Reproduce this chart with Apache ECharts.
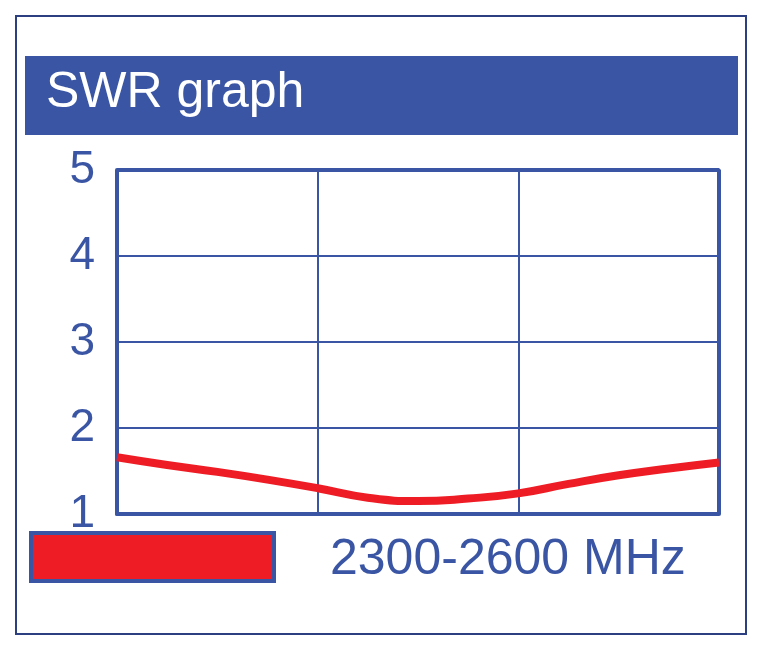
<!DOCTYPE html>
<html>
<head>
<meta charset="utf-8">
<script src="https://cdn.jsdelivr.net/npm/echarts@6/dist/echarts.min.js"></script>
<style>
  body { margin: 0; background: #fff; }
  #chart { width: 762px; height: 650px; }
</style>
</head>
<body>
<div id="chart"></div>
<script>
const freqs = [2300, 2325, 2350, 2375, 2400, 2425, 2450, 2475, 2500, 2525, 2550, 2575, 2600];
const swr = [1.66, 1.57, 1.49, 1.40, 1.30, 1.19, 1.15, 1.18, 1.24, 1.35, 1.45, 1.53, 1.60];
const yTicks = [1, 2, 3, 4, 5];
const bandLabel = "2300-2600 MHz";

const blue = "#3a55a4";
const chart = echarts.init(document.getElementById("chart"));

chart.setOption({
  animation: false,
  grid: { left: 117, right: 43, top: 170, bottom: 136 },
  graphic: [
    { type: "rect", shape: { x: 16, y: 16, width: 730, height: 618 },
      style: { fill: "none", stroke: "#2c3f80", lineWidth: 2 } },
    { type: "rect", shape: { x: 25, y: 56, width: 713, height: 79 },
      style: { fill: blue } },
    { type: "text", left: 46, top: 68,
      style: { text: "SWR graph", fill: "#fff", font: "50px 'Liberation Sans', Arial" } },
    { type: "rect", shape: { x: 31, y: 533, width: 243, height: 48 },
      style: { fill: "#ee1c25", stroke: blue, lineWidth: 4 } },
    { type: "text", left: 330, top: 535,
      style: { text: bandLabel, fill: blue, font: "50px 'Liberation Sans', Arial" } }
  ],
  xAxis: {
    type: "value",
    min: freqs[0],
    max: freqs[freqs.length - 1],
    interval: 100,
    axisLine: { show: true, lineStyle: { color: blue, width: 4 } },
    axisTick: { show: false },
    axisLabel: { show: false },
    splitLine: { show: true, lineStyle: { color: blue, width: 2 } }
  },
  yAxis: {
    type: "value",
    min: yTicks[0],
    max: yTicks[yTicks.length - 1],
    interval: 1,
    axisLine: { show: true, lineStyle: { color: blue, width: 4 } },
    axisTick: { show: false },
    axisLabel: {
      color: blue, fontSize: 46, fontFamily: "Liberation Sans", margin: 22,
      formatter: v => v, padding: [12, 0, 0, 0]
    },
    splitLine: { show: true, lineStyle: { color: blue, width: 2 } }
  },
  series: [
    {
      type: "line",
      data: freqs.map((f, i) => [f, swr[i]]),
      showSymbol: false,
      smooth: true,
      lineStyle: { color: "#ee1c25", width: 8 }
    },
    {
      // frame on top and right sides
      type: "line",
      data: [[freqs[0], 5], [freqs[freqs.length - 1], 5], [freqs[freqs.length - 1], 1]],
      showSymbol: false,
      lineStyle: { color: blue, width: 4 },
      z: 1
    }
  ]
});
</script>
</body>
</html>
